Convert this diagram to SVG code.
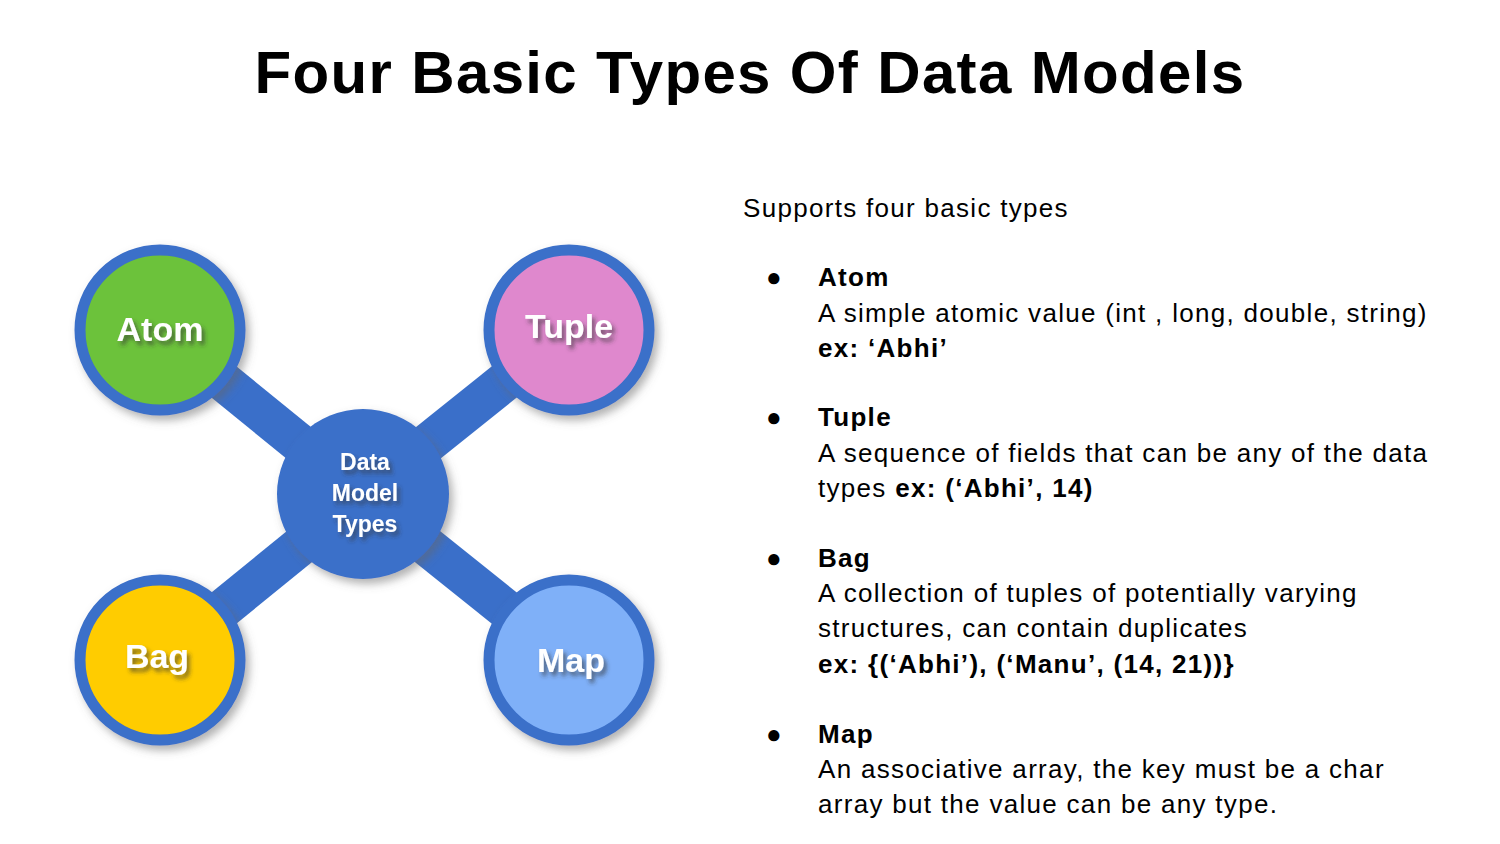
<svg xmlns="http://www.w3.org/2000/svg" width="1500" height="844" viewBox="0 0 1500 844">
<style>
.t{font-family:"Liberation Sans",Arial,sans-serif;fill:#000}
.b{font-weight:bold}
.lbl{font-family:"Liberation Sans",Arial,sans-serif;font-weight:bold;fill:#fff;text-anchor:middle;filter:url(#sh)}
.ring{stroke:#3a6fc9;stroke-width:11}
</style>
<defs>
<filter id="sh" x="-20%" y="-20%" width="150%" height="160%"><feDropShadow dx="3" dy="4" stdDeviation="2" flood-color="#333" flood-opacity="0.6"/></filter>
<filter id="cs" x="-20%" y="-20%" width="150%" height="150%"><feDropShadow dx="4" dy="5" stdDeviation="4" flood-color="#666" flood-opacity="0.5"/></filter>
</defs>
<rect width="1500" height="844" fill="#fff"/>
<text class="t b" x="750" y="93" font-size="60" letter-spacing="1.35" text-anchor="middle">Four Basic Types Of Data Models</text>
<g id="connectors" stroke="#3a6fc9" stroke-width="40">
<line x1="160" y1="330" x2="363" y2="495"/>
<line x1="569" y1="330" x2="363" y2="495"/>
<line x1="160" y1="660" x2="363" y2="495"/>
<line x1="569" y1="660" x2="363" y2="495"/>
</g>
<g id="center"><ellipse cx="363" cy="494" rx="86" ry="85" fill="#3a6fc9" filter="url(#cs)"/>
<text class="lbl" font-size="23" x="365" y="470">Data</text><text class="lbl" font-size="23" x="365" y="501">Model</text><text class="lbl" font-size="23" x="365" y="532">Types</text></g>
<g id="atom"><circle cx="160" cy="330" r="80" fill="#6cc23a" class="ring" filter="url(#cs)"/><text class="lbl" font-size="34" x="160" y="341">Atom</text></g>
<g id="tuple"><circle cx="569" cy="330" r="80" fill="#df88cd" class="ring" filter="url(#cs)"/><text class="lbl" font-size="34" x="569" y="338">Tuple</text></g>
<g id="bag"><circle cx="160" cy="660" r="80" fill="#ffcc00" class="ring" filter="url(#cs)"/><text class="lbl" font-size="34" x="157" y="668">Bag</text></g>
<g id="map"><circle cx="569" cy="660" r="80" fill="#7fb0f8" class="ring" filter="url(#cs)"/><text class="lbl" font-size="34" x="571" y="672">Map</text></g>
<g class="t" font-size="26" letter-spacing="1.3">
<text x="743" y="217">Supports four basic types</text>
<text x="766" y="286">●</text>
<text x="818" y="286" class="b">Atom</text>
<text x="818" y="322">A simple atomic value (int , long, double, string)</text>
<text x="818" y="357" class="b">ex: ‘Abhi’</text>
<text x="766" y="426">●</text>
<text x="818" y="426" class="b">Tuple</text>
<text x="818" y="462">A sequence of fields that can be any of the data</text>
<text x="818" y="497">types <tspan class="b">ex: (‘Abhi’, 14)</tspan></text>
<text x="766" y="567">●</text>
<text x="818" y="567" class="b">Bag</text>
<text x="818" y="602">A collection of tuples of potentially varying</text>
<text x="818" y="637">structures, can contain duplicates</text>
<text x="818" y="673" class="b">ex: {(‘Abhi’), (‘Manu’, (14, 21))}</text>
<text x="766" y="743">●</text>
<text x="818" y="743" class="b">Map</text>
<text x="818" y="778">An associative array, the key must be a char</text>
<text x="818" y="813">array but the value can be any type.</text>
</g>
</svg>
